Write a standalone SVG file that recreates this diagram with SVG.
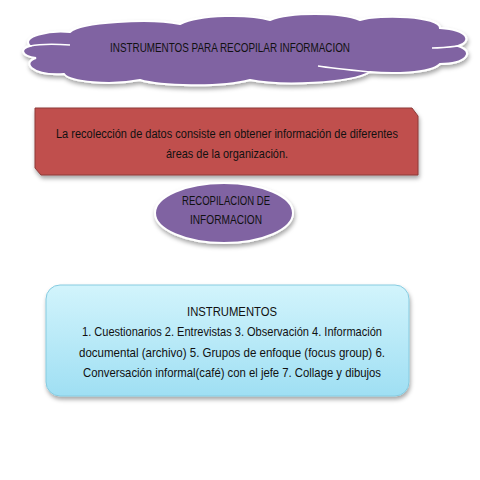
<svg xmlns="http://www.w3.org/2000/svg" width="480" height="480" viewBox="0 0 480 480">
<defs>
<filter id="sh" x="-10%" y="-20%" width="120%" height="150%">
<feDropShadow dx="1" dy="3" stdDeviation="2" flood-color="#000" flood-opacity="0.35"/>
</filter>
<linearGradient id="blue" x1="0" y1="0" x2="0" y2="1">
<stop offset="0" stop-color="#d2f4fc"/>
<stop offset="1" stop-color="#9fdff3"/>
</linearGradient>
<style>
text{font-family:"Liberation Sans",Arial,sans-serif;fill:#111;text-anchor:middle;}
.t{font-size:13px;}
</style>
</defs>
<rect width="480" height="480" fill="#fff"/>
<g id="cloud">
<path filter="url(#sh)" fill="#8064a2" stroke="#fff" stroke-width="2" d="M30,46 C20,36 50,30 70,32 C80,22 150,18 180,24 C200,14 250,14 270,20 C290,12 340,12 360,20 C380,14 440,16 440,28 C470,30 472,42 458,46 C476,52 466,64 440,64 C430,74 390,74 370,72 C350,84 280,86 250,80 C220,88 160,86 140,80 C110,86 70,82 64,74 C30,76 22,62 36,58 C20,56 20,48 30,46 Z"/>
<path d="M30,46 C40,44 55,44 70,45 M370,72 C350,70 330,68 318,66 M458,46 C450,47 442,48 432,48" fill="none" stroke="#fff" stroke-width="1.5"/>
<text x="230" y="52" class="t" textLength="240" lengthAdjust="spacingAndGlyphs">INSTRUMENTOS PARA RECOPILAR INFORMACION</text>
</g>
<g id="def">
<path filter="url(#sh)" fill="#c0504d" stroke="#8c3a38" stroke-width="1" d="M35,108 L412,108 L418,116 L418,175 L41,175 L35,168 Z"/>
<text x="227" y="138" class="t" style="font-size:12px" textLength="342" lengthAdjust="spacingAndGlyphs">La recolección de datos consiste en obtener información de diferentes</text>
<text x="227" y="158" class="t" textLength="122" lengthAdjust="spacingAndGlyphs">áreas de la organización.</text>
</g>
<g id="recop">
<ellipse cx="224" cy="213" rx="69" ry="30" fill="#8064a2" stroke="#fff" stroke-width="2" filter="url(#sh)"/>
<text x="226" y="205" class="t" textLength="88" lengthAdjust="spacingAndGlyphs">RECOPILACION DE</text>
<text x="226" y="224" class="t" textLength="72" lengthAdjust="spacingAndGlyphs">INFORMACION</text>
</g>
<g id="instr">
<rect x="46" y="285" width="363" height="111" rx="14" fill="url(#blue)" stroke="#86cbe0" stroke-width="1" filter="url(#sh)"/>
<text x="232" y="316" class="t" textLength="90" lengthAdjust="spacingAndGlyphs">INSTRUMENTOS</text>
<text x="232" y="336" class="t" textLength="300" lengthAdjust="spacingAndGlyphs">1. Cuestionarios 2. Entrevistas 3. Observación 4. Información</text>
<text x="232" y="357" class="t" textLength="306" lengthAdjust="spacingAndGlyphs">documental (archivo) 5. Grupos de enfoque (focus group) 6.</text>
<text x="232" y="377" class="t" textLength="298" lengthAdjust="spacingAndGlyphs">Conversación informal(café) con el jefe 7. Collage y dibujos</text>
</g>
<g id="connectors"/>
</svg>
